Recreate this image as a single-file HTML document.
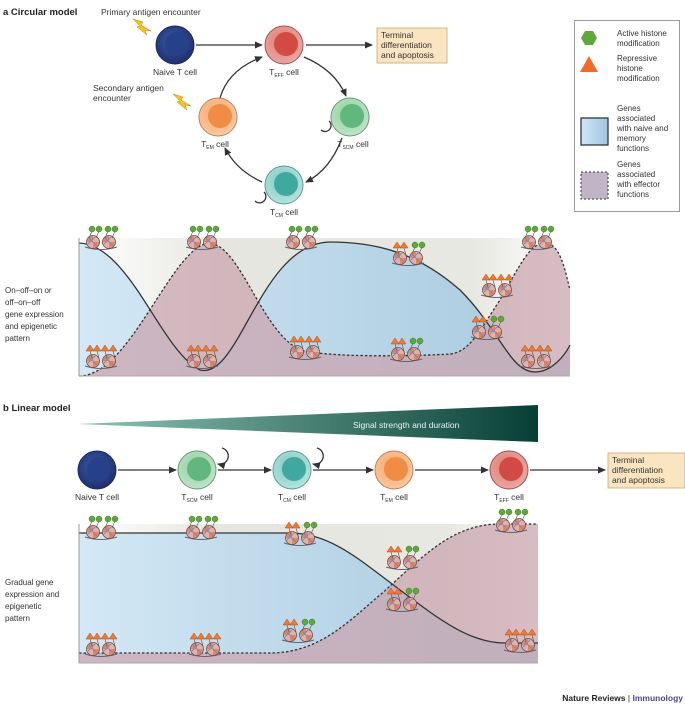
<!DOCTYPE html>
<html><head><meta charset="utf-8"><style>
body{margin:0;background:#fff}
svg{display:block;font-family:"Liberation Sans",sans-serif}
</style></head><body>
<svg width="685" height="706" viewBox="0 0 685 706" xmlns="http://www.w3.org/2000/svg">
<defs>
<radialGradient id="gN" cx="45%" cy="40%" r="60%"><stop offset="0" stop-color="#3a5aa8"/><stop offset="1" stop-color="#1e2f6e"/></radialGradient>
<radialGradient id="gE" cx="45%" cy="40%" r="60%"><stop offset="0" stop-color="#e07a70"/><stop offset="1" stop-color="#e8a8a0"/></radialGradient>
<radialGradient id="gS" cx="45%" cy="40%" r="60%"><stop offset="0" stop-color="#8fd0a0"/><stop offset="1" stop-color="#bfe3c6"/></radialGradient>
<radialGradient id="gC" cx="45%" cy="40%" r="60%"><stop offset="0" stop-color="#7ccac2"/><stop offset="1" stop-color="#b6e2dc"/></radialGradient>
<radialGradient id="gM" cx="45%" cy="40%" r="60%"><stop offset="0" stop-color="#f7a868"/><stop offset="1" stop-color="#fbc8a0"/></radialGradient>
<linearGradient id="bg" x1="0" x2="1"><stop offset="0" stop-color="#fff"/><stop offset=".3" stop-color="#e6e6e0"/><stop offset=".8" stop-color="#e8e8e2"/><stop offset="1" stop-color="#fff"/></linearGradient>
<linearGradient id="blue" x1="0" x2="1"><stop offset="0" stop-color="#cfe6f6"/><stop offset="1" stop-color="#9fc6de"/></linearGradient>
<linearGradient id="wedge" x1="0" x2="1"><stop offset="0" stop-color="#8cc4b4"/><stop offset="1" stop-color="#073f35"/></linearGradient>
<marker id="ar" markerWidth="8" markerHeight="8" refX="7" refY="4" orient="auto" markerUnits="userSpaceOnUse"><path d="M0,0.5 L8,4 L0,7.5 Z" fill="#333"/></marker>
<g id="nuc"><circle r="6.5" fill="#e6b0a6" stroke="#555" stroke-width="0.8"/><path d="M-6,0 A6,6 0 0 1 0,-6 L0,0Z" fill="#f0805a"/><path d="M0,0 L6,0 A6,6 0 0 1 0,6Z" fill="#f0805a"/><path d="M-4,-4 L4,4 M-5,2 L2,-5" stroke="#7090c0" stroke-width="1"/></g>
<g id="act"><line x1="0" y1="0" x2="3" y2="-7" stroke="#555" stroke-width="0.6"/><circle cx="3" cy="-9" r="3" fill="#5fa83a" stroke="#3d7a25" stroke-width="0.5"/></g>
<g id="rep"><line x1="0" y1="0" x2="-2" y2="-7" stroke="#555" stroke-width="0.6"/><path d="M-2,-13 L2,-7 L-6,-7Z" fill="#f07a30" stroke="#b04a10" stroke-width="0.5"/></g>
<g id="pA"><path d="M-8,5 Q8,10 24,5" fill="none" stroke="#666" stroke-width="1"/><use href="#nuc"/><use href="#nuc" x="16"/><use href="#act" x="-4" y="-4"/><use href="#act" x="3" y="-4"/><use href="#act" x="12" y="-4"/><use href="#act" x="19" y="-4"/></g>
<g id="pR"><path d="M-8,5 Q8,10 24,5" fill="none" stroke="#666" stroke-width="1"/><use href="#nuc"/><use href="#nuc" x="16"/><use href="#rep" x="-1" y="-3"/><use href="#rep" x="6" y="-3"/><use href="#rep" x="14" y="-3"/><use href="#rep" x="22" y="-3"/></g>
<g id="pM"><path d="M-8,5 Q8,10 24,5" fill="none" stroke="#666" stroke-width="1"/><use href="#nuc"/><use href="#nuc" x="16"/><use href="#rep" x="-1" y="-3"/><use href="#rep" x="6" y="-3"/><use href="#act" x="12" y="-4"/><use href="#act" x="19" y="-4"/></g>
<g id="bolt"><path d="M0,0 L10,3 L8,6 L18,12 L12,11 L14,16 L4,8 L7,7 Z" fill="#f5c020" stroke="#c08a00" stroke-width="0.5"/></g>
</defs>

<!-- Panel a -->
<text x="3" y="15" font-size="9.5" font-weight="bold" fill="#222">a  Circular model</text>
<text x="101" y="15" font-size="8.5" fill="#333">Primary antigen encounter</text>
<use href="#bolt" x="133" y="19"/>
<text x="93" y="91" font-size="8.5" fill="#333">Secondary antigen</text>
<text x="93" y="101" font-size="8.5" fill="#333">encounter</text>
<use href="#bolt" x="173" y="94"/>

<line x1="196" y1="45" x2="262" y2="45" stroke="#333" stroke-width="1.3" marker-end="url(#ar)"/>
<line x1="306" y1="45" x2="372" y2="45" stroke="#333" stroke-width="1.3" marker-end="url(#ar)"/>
<path d="M304,57 Q335,70 346,96" fill="none" stroke="#333" stroke-width="1.3" marker-end="url(#ar)"/>
<path d="M342,138 Q330,170 306,182" fill="none" stroke="#333" stroke-width="1.3" marker-end="url(#ar)"/>
<path d="M262,182 Q236,170 225,148" fill="none" stroke="#333" stroke-width="1.3" marker-end="url(#ar)"/>
<path d="M220,98 Q228,70 262,57" fill="none" stroke="#333" stroke-width="1.3" marker-end="url(#ar)"/>
<path d="M329,121 A6,6 0 1 1 321,130" fill="none" stroke="#333" stroke-width="1.3"/>
<path d="M264,192 A6,6 0 1 1 255,201" fill="none" stroke="#333" stroke-width="1.3"/>

<circle cx="175" cy="45" r="19" fill="url(#gN)" stroke="#1a2a60"/><circle cx="177" cy="44" r="12" fill="#26408a"/>
<circle cx="284" cy="45" r="19" fill="url(#gE)" stroke="#a05050"/><circle cx="286" cy="44" r="12" fill="#d24a44"/>
<circle cx="350" cy="117" r="19" fill="url(#gS)" stroke="#6a9a78"/><circle cx="352" cy="116" r="12" fill="#62b77e"/>
<circle cx="284" cy="185" r="19" fill="url(#gC)" stroke="#5a9a94"/><circle cx="286" cy="184" r="12" fill="#3fa9a0"/>
<circle cx="218" cy="117" r="19" fill="url(#gM)" stroke="#c08060"/><circle cx="220" cy="116" r="12" fill="#f08c44"/>
<text x="175" y="75" font-size="8.5" text-anchor="middle" fill="#333">Naive T cell</text>
<text x="284" y="75" font-size="8.5" text-anchor="middle" fill="#333">T<tspan font-size="5" dy="2">EFF</tspan><tspan dy="-2"> cell</tspan></text>
<text x="353" y="147" font-size="8.5" text-anchor="middle" fill="#333">T<tspan font-size="5" dy="2">SCM</tspan><tspan dy="-2"> cell</tspan></text>
<text x="284" y="215" font-size="8.5" text-anchor="middle" fill="#333">T<tspan font-size="5" dy="2">CM</tspan><tspan dy="-2"> cell</tspan></text>
<text x="215" y="147" font-size="8.5" text-anchor="middle" fill="#333">T<tspan font-size="5" dy="2">EM</tspan><tspan dy="-2"> cell</tspan></text>
<rect x="377" y="28" width="70" height="35" fill="#fbe5c0" stroke="#c9a870" stroke-width="0.8"/>
<text font-size="8.5" fill="#333"><tspan x="381" y="38">Terminal</tspan><tspan x="381" y="48">differentiation</tspan><tspan x="381" y="58">and apoptosis</tspan></text>

<!-- Legend -->
<rect x="574.5" y="20.5" width="105" height="191" fill="#fff" stroke="#999"/>
<path d="M585,31 L593,31 L597,38 L593,45 L585,45 L581,38Z" fill="#5fa83a"/>
<text font-size="8" fill="#333"><tspan x="617" y="36">Active histone</tspan><tspan x="617" y="46">modification</tspan></text>
<path d="M589,56 L598,72 L580,72Z" fill="#f06a28"/>
<text font-size="8" fill="#333"><tspan x="617" y="61">Repressive</tspan><tspan x="617" y="71">histone</tspan><tspan x="617" y="81">modification</tspan></text>
<rect x="581" y="118" width="27" height="27" fill="url(#blue)" stroke="#2d3a44" stroke-width="1.3"/>
<text font-size="8" fill="#333"><tspan x="617" y="111">Genes</tspan><tspan x="617" y="121">associated</tspan><tspan x="617" y="131">with naive and</tspan><tspan x="617" y="141">memory</tspan><tspan x="617" y="151">functions</tspan></text>
<rect x="581" y="172" width="27" height="27" fill="#c0b4c6" stroke="#333" stroke-width="1" stroke-dasharray="2,2"/>
<text font-size="8" fill="#333"><tspan x="617" y="167">Genes</tspan><tspan x="617" y="177">associated</tspan><tspan x="617" y="187">with effector</tspan><tspan x="617" y="197">functions</tspan></text>

<!-- Chart a -->
<rect x="79" y="238" width="491" height="138" fill="url(#bg)"/>
<path d="M79,243 C130,245 160,350 200,370 C240,380 260,243 330,242 C380,242 420,255 460,290 C500,330 510,372 535,372 C552,372 565,355 570,345 L570,376 L79,376Z" fill="url(#blue)" opacity=".9"/>
<path d="M79,376 C130,376 170,250 208,243 C240,243 260,330 300,350 C330,358 420,356 450,354 C470,352 480,330 500,300 C520,265 530,243 545,243 C560,243 565,270 570,290 L570,376Z" fill="#c9a6b0" opacity=".75"/>
<path d="M79,243 C130,245 160,350 200,370 C240,380 260,243 330,242 C380,242 420,255 460,290 C500,330 510,372 535,372 C552,372 565,355 570,345" fill="none" stroke="#333" stroke-width="1.3"/>
<path d="M79,376 C130,376 170,250 208,243 C240,243 260,330 300,350 C330,358 420,356 450,354 C470,352 480,330 500,300 C520,265 530,243 545,243 C560,243 565,270 570,290" fill="none" stroke="#333" stroke-width="1.3" stroke-dasharray="2.5,2"/>
<line x1="79" y1="238" x2="79" y2="376" stroke="#999"/><line x1="79" y1="376" x2="570" y2="376" stroke="#aaa"/>
<text font-size="8" fill="#333"><tspan x="5" y="293">On–off–on or</tspan><tspan x="5" y="305">off–on–off</tspan><tspan x="5" y="317">gene expression</tspan><tspan x="5" y="329">and epigenetic</tspan><tspan x="5" y="341">pattern</tspan></text>
<use href="#pA" x="93" y="242"/><use href="#pA" x="194" y="242"/><use href="#pA" x="293" y="242"/><use href="#pM" x="400" y="258"/><use href="#pA" x="529" y="242"/>
<use href="#pR" x="93" y="361"/><use href="#pR" x="194" y="361"/><use href="#pR" x="297" y="352"/><use href="#pM" x="398" y="354"/><use href="#pR" x="528" y="361"/>
<use href="#pR" x="489" y="290"/><use href="#pM" x="479" y="332"/>

<!-- Panel b -->
<text x="3" y="411" font-size="9.5" font-weight="bold" fill="#222">b  Linear model</text>
<path d="M78,424 L538,405 L538,442Z" fill="url(#wedge)"/>
<text x="353" y="428" font-size="8.5" fill="#e8f4f0">Signal strength and duration</text>
<line x1="118" y1="470" x2="176" y2="470" stroke="#333" stroke-width="1.3" marker-end="url(#ar)"/>
<line x1="218" y1="470" x2="271" y2="470" stroke="#333" stroke-width="1.3" marker-end="url(#ar)"/>
<line x1="313" y1="470" x2="373" y2="470" stroke="#333" stroke-width="1.3" marker-end="url(#ar)"/>
<line x1="415" y1="470" x2="488" y2="470" stroke="#333" stroke-width="1.3" marker-end="url(#ar)"/>
<line x1="530" y1="470" x2="605" y2="470" stroke="#333" stroke-width="1.3" marker-end="url(#ar)"/>
<path d="M222,448 A7,7 0 1 1 218,464" fill="none" stroke="#333" stroke-width="1.3" marker-end="url(#ar)"/>
<path d="M317,448 A7,7 0 1 1 313,464" fill="none" stroke="#333" stroke-width="1.3" marker-end="url(#ar)"/>
<circle cx="97" cy="470" r="19" fill="url(#gN)" stroke="#1a2a60"/><circle cx="99" cy="469" r="12" fill="#26408a"/>
<circle cx="197" cy="470" r="19" fill="url(#gS)" stroke="#6a9a78"/><circle cx="199" cy="469" r="12" fill="#62b77e"/>
<circle cx="292" cy="470" r="19" fill="url(#gC)" stroke="#5a9a94"/><circle cx="294" cy="469" r="12" fill="#3fa9a0"/>
<circle cx="394" cy="470" r="19" fill="url(#gM)" stroke="#c08060"/><circle cx="396" cy="469" r="12" fill="#f08c44"/>
<circle cx="509" cy="470" r="19" fill="url(#gE)" stroke="#a05050"/><circle cx="511" cy="469" r="12" fill="#d24a44"/>
<text x="97" y="500" font-size="8.5" text-anchor="middle" fill="#333">Naive T cell</text>
<text x="197" y="500" font-size="8.5" text-anchor="middle" fill="#333">T<tspan font-size="5" dy="2">SCM</tspan><tspan dy="-2"> cell</tspan></text>
<text x="292" y="500" font-size="8.5" text-anchor="middle" fill="#333">T<tspan font-size="5" dy="2">CM</tspan><tspan dy="-2"> cell</tspan></text>
<text x="394" y="500" font-size="8.5" text-anchor="middle" fill="#333">T<tspan font-size="5" dy="2">EM</tspan><tspan dy="-2"> cell</tspan></text>
<text x="509" y="500" font-size="8.5" text-anchor="middle" fill="#333">T<tspan font-size="5" dy="2">EFF</tspan><tspan dy="-2"> cell</tspan></text>
<rect x="608" y="453" width="77" height="35" fill="#fbe5c0" stroke="#c9a870" stroke-width="0.8"/>
<text font-size="8.5" fill="#333"><tspan x="612" y="463">Terminal</tspan><tspan x="612" y="473">differentiation</tspan><tspan x="612" y="483">and apoptosis</tspan></text>

<!-- Chart b -->
<rect x="79" y="524" width="459" height="139" fill="url(#bg)"/>
<path d="M79,533 L290,533 C330,533 360,560 400,590 C440,620 470,643 505,643 L538,643 L538,663 L79,663Z" fill="url(#blue)" opacity=".9"/>
<path d="M79,653 L270,653 C320,653 350,620 380,595 C420,560 450,524 500,524 L538,524 L538,663 L79,663Z" fill="#c9a6b0" opacity=".75"/>
<path d="M79,533 L290,533 C330,533 360,560 400,590 C440,620 470,643 505,643 L538,643" fill="none" stroke="#333" stroke-width="1.3"/>
<path d="M79,653 L270,653 C320,653 350,620 380,595 C420,560 450,524 500,524 L538,524" fill="none" stroke="#333" stroke-width="1.3" stroke-dasharray="2.5,2"/>
<line x1="79" y1="524" x2="79" y2="663" stroke="#999"/><line x1="79" y1="663" x2="538" y2="663" stroke="#aaa"/>
<text font-size="8" fill="#333"><tspan x="5" y="585">Gradual gene</tspan><tspan x="5" y="597">expression and</tspan><tspan x="5" y="609">epigenetic</tspan><tspan x="5" y="621">pattern</tspan></text>
<use href="#pA" x="93" y="532"/><use href="#pA" x="193" y="532"/><use href="#pM" x="292" y="538"/><use href="#pA" x="503" y="525"/>
<use href="#pR" x="93" y="649"/><use href="#pR" x="197" y="649"/><use href="#pM" x="290" y="635"/><use href="#pR" x="512" y="645"/>
<use href="#pM" x="394" y="562"/><use href="#pM" x="394" y="604"/>

<text x="683" y="701" font-size="8.5" text-anchor="end" fill="#222"><tspan font-weight="bold">Nature Reviews</tspan> | <tspan fill="#4a4a8a" font-weight="bold">Immunology</tspan></text>
</svg>
</body></html>
